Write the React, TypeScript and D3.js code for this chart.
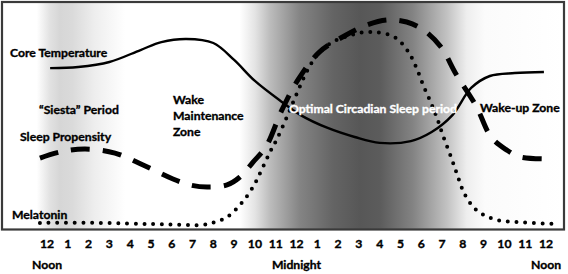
import React from "react";
import * as d3 from "d3";

// Hour offsets from noon (0 = 12 noon, 12 = midnight, 24 = next noon)
const tickLabels = ["12","1","2","3","4","5","6","7","8","9","10","11","12","1","2","3","4","5","6","7","8","9","10","11","12"];
const periodLabels = [
  { hour: 0, text: "Noon" },
  { hour: 12, text: "Midnight" },
  { hour: 24, text: "Noon" },
];

// Core temperature (relative level 0-100)
const tempHours = [0.15, 1.5, 3, 4.5, 5.5, 6.7, 8, 9, 10, 11.3, 12.2, 13.5, 14.8, 16, 17.5, 18.5, 19.5, 20.4, 21.3, 22.5, 23.9];
const tempValues = [71.2, 71.7, 73.9, 79.2, 82.7, 84.1, 82.3, 74.8, 65.5, 56.2, 50.4, 44.7, 40.7, 38.1, 38.9, 42.9, 50.4, 62.4, 67.7, 69.0, 69.5];

// Sleep propensity (relative level 0-100)
const sleepHours = [-0.34, 0.63, 1.83, 3.27, 4.62, 6.06, 6.88, 7.7, 8.66, 9.28, 9.91, 10.55, 11.3, 12.1, 13.1, 14.3, 15.4, 16.4, 17.3, 18.1, 18.95, 19.67, 20.64, 21.36, 22.1, 22.75, 24.24];
const sleepValues = [31.4, 34.1, 35.4, 33.6, 28.3, 22.1, 19.5, 18.6, 19.5, 23.0, 29.6, 36.7, 52.7, 66.4, 78.3, 85.4, 90.3, 92.5, 91.6, 88.1, 80.5, 68.6, 54.4, 40.7, 35.0, 31.9, 31.0];

// Melatonin (relative level 0-100)
const melHours = [-0.34, 2.55, 4.95, 6.64, 7.5, 8.08, 8.66, 9.28, 9.91, 10.34, 10.73, 11.06, 11.54, 12.03, 12.51, 12.99, 13.66, 14.62, 15.54, 16.69, 17.32, 17.75, 18.13, 18.47, 18.76, 19.05, 19.43, 19.72, 20.06, 20.54, 21.02, 21.65, 22.61, 24.53];
const melValues = [2.7, 2.7, 2.2, 1.8, 1.8, 3.1, 5.3, 10.6, 18.6, 26.5, 34.1, 39.8, 49.6, 60.2, 69.9, 77.0, 82.3, 85.8, 87.2, 85.0, 79.2, 71.7, 62.8, 55.8, 49.1, 41.2, 31.9, 24.3, 15.9, 9.3, 6.2, 4.0, 3.1, 2.2];

const W = 568, H = 274;
const FONT = "Lato, 'Open Sans', sans-serif";

export default function App() {
  const x = d3.scaleLinear().domain([0, 24]).range([47, 546]);
  const y = d3.scaleLinear().domain([0, 100]).range([229, 3]);
  const line = d3
    .line<[number, number]>()
    .x((d) => x(d[0]))
    .y((d) => y(d[1]))
    .curve(d3.curveCatmullRom.alpha(0.5));
  const zip = (a: number[], b: number[]) => a.map((h, i) => [h, b[i]] as [number, number]);

  const frame = { x: 2, y: 2, w: 562, h: 227.5 };
  const stops: [number, string][] = [
    [0, "#ffffff"], [0.062, "#ffffff"], [0.085, "#e2e2e2"], [0.103, "#d6d6d6"], [0.125, "#dadada"],
    [0.165, "#eeeeee"], [0.219, "#ffffff"], [0.423, "#ffffff"], [0.45, "#e4e4e4"], [0.477, "#bcbcbc"],
    [0.53, "#848484"], [0.589, "#646464"], [0.637, "#575757"], [0.673, "#5c5c5c"], [0.731, "#838383"],
    [0.792, "#c2c2c2"], [0.827, "#eeeeee"], [0.859, "#fbfbfb"], [1, "#ffffff"],
  ];

  const lbl = {
    fontFamily: FONT,
    fontWeight: 700,
    fontSize: 12.2,
    fill: "#000",
    stroke: "#000",
    strokeWidth: 0.35,
  } as const;

  return (
    <svg width={W} height={H} style={{ position: "absolute", left: 0, top: 0, background: "#fff" }}>
      <defs>
        <linearGradient id="bg" gradientUnits="userSpaceOnUse" x1={frame.x} x2={frame.x + frame.w} y1={0} y2={0}>
          {stops.map(([o, c], i) => (
            <stop key={i} offset={o} stopColor={c} />
          ))}
        </linearGradient>
      </defs>
      <rect x={frame.x} y={frame.y} width={frame.w} height={frame.h} fill="url(#bg)" stroke="#3a3a3a" strokeWidth={2.2} />

      <path d={line(zip(tempHours, tempValues)) || ""} fill="none" stroke="#000" strokeWidth={2.4} />
      <path d={line(zip(sleepHours, sleepValues)) || ""} fill="none" stroke="#000" strokeWidth={5} strokeDasharray="19 13" />
      <path d={line(zip(melHours, melValues)) || ""} fill="none" stroke="#000" strokeWidth={4} strokeDasharray="0 8.7" strokeLinecap="round" />

      <text x={10} y={56.5} {...lbl}>Core Temperature</text>
      <text x={39} y={114} {...lbl}>“Siesta” Period</text>
      <text x={173} y={104} {...lbl}>Wake</text>
      <text x={173} y={120} {...lbl}>Maintenance</text>
      <text x={173} y={135.5} {...lbl}>Zone</text>
      <text x={20} y={141} {...lbl}>Sleep Propensity</text>
      <text x={12} y={219} {...lbl}>Melatonin</text>
      <text x={289} y={113} {...lbl} fill="#fff" stroke="#fff">Optimal Circadian Sleep period</text>
      <text x={480} y={112} {...lbl}>Wake-up Zone</text>

      {tickLabels.map((t, i) => (
        <text key={i} x={x(i)} y={248} textAnchor="middle" {...lbl}>{t}</text>
      ))}
      {periodLabels.map((p, i) => (
        <text key={i} x={x(p.hour)} y={269} textAnchor="middle" {...lbl}>{p.text}</text>
      ))}
    </svg>
  );
}
